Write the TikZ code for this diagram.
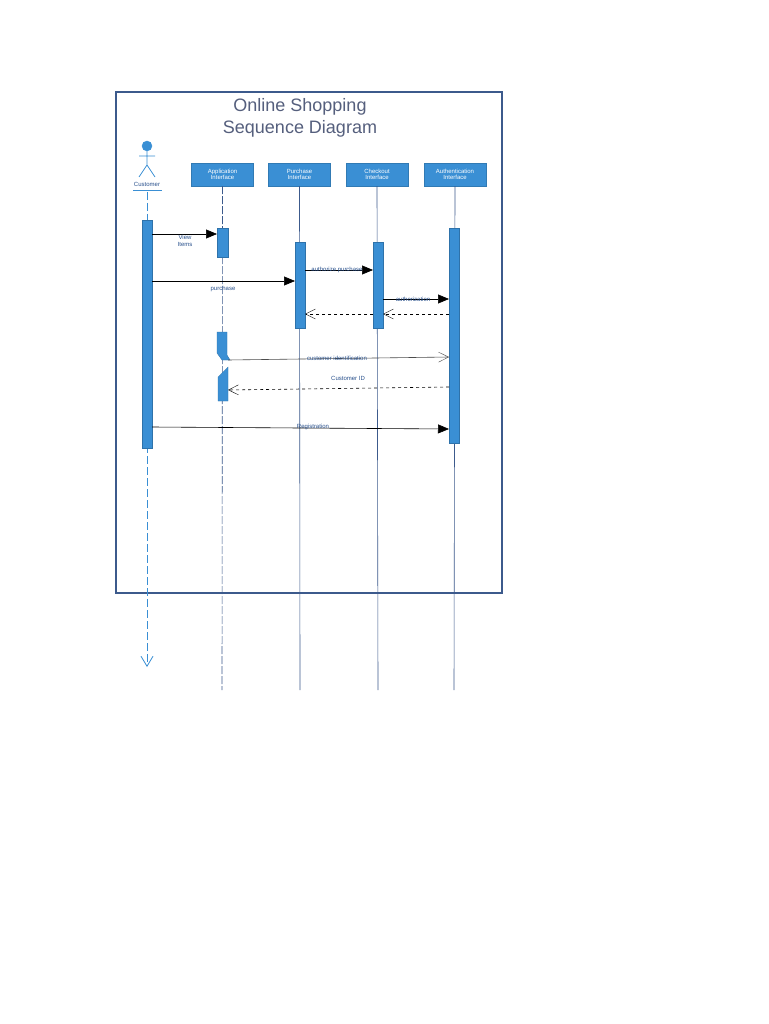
\documentclass[tikz,border=0pt]{standalone}
\usepackage{fontspec}
\setmainfont{Liberation Sans}
\usetikzlibrary{arrows.meta}
\definecolor{bar}{RGB}{58,143,212}
\definecolor{frm}{RGB}{60,90,140}
\definecolor{ttl}{RGB}{85,95,125}
\definecolor{lbl}{RGB}{40,80,140}
\begin{document}
\begin{tikzpicture}[x=1pt,y=-1pt,
 hdr/.style={draw=bar!85!black,fill=bar,text=white,minimum width=62pt,minimum height=23pt,inner sep=0pt,align=center,font=\fontsize{6}{6.5}\selectfont},
 act/.style={fill=bar,draw=bar!80!black,line width=0.3pt},
 life/.style={draw=frm,line width=0.6pt},
 msg/.style={draw=black,line width=0.6pt,-{Triangle[length=11pt,width=9pt]}},
 ret/.style={draw=black,line width=0.6pt,dashed,-{Straight Barb[length=10pt,width=10pt,line width=0.4pt]}},
 syn/.style={draw=black!70,line width=0.6pt,-{Straight Barb[length=10pt,width=10pt,line width=0.4pt]}},
 lab/.style={text=lbl,font=\fontsize{6}{6.5}\selectfont,inner sep=0pt,align=center}]
\useasboundingbox (0,0) rectangle (768,1024);
\fill[white] (0,0) rectangle (768,1024);
\draw[frm,line width=1.5pt] (116,92) rectangle (502,593);
\node[text=ttl,font=\fontsize{18}{22}\selectfont,align=center] (title) at (300,118) {Online Shopping\\Sequence Diagram};
% actor
\draw[bar,fill=bar] (147,146) circle (5);
\draw[bar,line width=0.8pt] (147,151)--(147,165) (139,156)--(155,156) (139,177)--(147,165)--(155,177);
\node[lab] (cust) at (147,184) {Customer};
\draw[bar,line width=0.8pt] (133,190)--(162,190);
\coordinate (cend) at (147,667);
\draw[bar,dashed,dash pattern=on 8pt off 3pt,line width=0.8pt,-{Straight Barb[length=10pt,width=12pt]}] (147,192)--(cend);
% headers
\node[hdr] (app) at (222.5,174.5) {Application\\Interface};
\node[hdr] (pur) at (299.5,174.5) {Purchase\\Interface};
\node[hdr] (chk) at (377,174.5) {Checkout\\Interface};
\node[hdr] (aut) at (455,174.5) {Authentication\\Interface};
\coordinate (appE) at (222,690); \coordinate (purE) at (300,690);
\coordinate (chkE) at (378,690); \coordinate (autE) at (454,690);
\draw[life,dashed,dash pattern=on 8pt off 2pt] (app.south)--(appE);
\draw[life] (pur.south)--(purE);
\draw[life] (chk.south)--(chkE);
\draw[life] (aut.south)--(autE);
% activations
\draw[act] (142,220) rectangle (152,448);
\draw[act] (217,228) rectangle (228,257);
\draw[act] (217,332) -- (227,332) -- (227,355) -- (230,360) -- (222,360) -- (217,353) -- cycle;
\draw[act] (228,367) -- (228,401) -- (218,401) -- (218,377) -- cycle;
\draw[act] (295,242) rectangle (305,328);
\draw[act] (373,242) rectangle (383,328);
\draw[act] (449,228) rectangle (459,443);
% messages
\coordinate (a1) at (152,234); \coordinate (b1) at (217,234);
\draw[msg] (a1)--(b1);
\node[lab] (l1) at (185,241) {View\\Items};
\coordinate (a2) at (152,281); \coordinate (b2) at (295,281);
\draw[msg] (a2)--(b2);
\node[lab] (l2) at (223,289) {purchase};
\coordinate (a3) at (305,270); \coordinate (b3) at (373,270);
\draw[msg] (a3)--(b3);
\node[lab] (l3) at (337,270) {authorize purchase};
\coordinate (a4) at (383,299); \coordinate (b4) at (449,299);
\draw[msg] (a4)--(b4);
\node[lab] (l4) at (413,299) {authorization};
\coordinate (a5) at (449,314); \coordinate (b5) at (383,314);
\coordinate (a6) at (373,314); \coordinate (b6) at (305,314);
\draw[ret] (a5)--(b5); \draw[ret] (a6)--(b6);
\coordinate (a7) at (228,360); \coordinate (b7) at (449,357);
\draw[syn] (a7)--(b7);
\node[lab] (l7) at (337,358) {customer identification};
\node[lab] (l8) at (348,378) {Customer ID};
\coordinate (a8) at (449,387); \coordinate (b8) at (228,390);
\draw[ret] (a8)--(b8);
\coordinate (a9) at (152,427); \coordinate (b9) at (449,429);
\draw[msg] (a9)--(b9);
\node[lab] (l9) at (313,427) {Registration};
\end{tikzpicture}
\end{document}
